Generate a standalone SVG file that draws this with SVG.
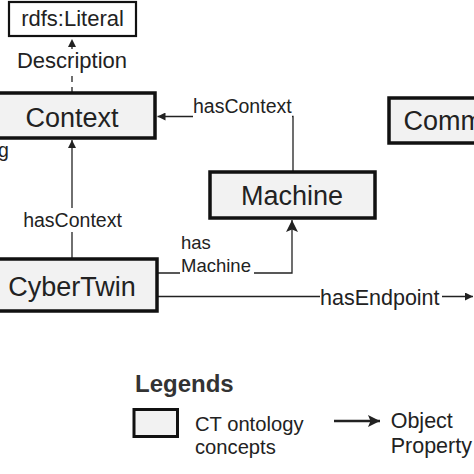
<svg xmlns="http://www.w3.org/2000/svg" width="474" height="474" viewBox="0 0 474 474">
<style>
text{font-family:"Liberation Sans",Arial,sans-serif;fill:#222}
.node{fill:#f2f2f2;stroke:#111;stroke-width:3.5}
.nt{font-size:27px;text-anchor:middle}
.lbl{font-size:19.5px}
.bg{fill:#fff}
.conn{fill:none;stroke:#222;stroke-width:1.3}
</style>
<defs>
<marker id="sm" markerUnits="userSpaceOnUse" markerWidth="8" markerHeight="8" refX="8" refY="4" orient="auto">
<path d="M0,0 L8,4 L0,8 Z" fill="#222"/>
</marker>
<marker id="big" markerUnits="userSpaceOnUse" markerWidth="13" markerHeight="12" refX="12" refY="6" orient="auto">
<path d="M0,0 L12,6 L0,12 L2.5,6 Z" fill="#222"/>
</marker>
</defs>
<rect width="474" height="474" fill="#fff"/>
<g id="connectors">
<path class="conn" d="M72,93 V39" stroke-dasharray="6,5" marker-end="url(#sm)"/>
<path class="conn" d="M293,172 V116.5 H157.5" marker-end="url(#sm)"/>
<path class="conn" d="M72,259 V140" marker-end="url(#sm)"/>
<path class="conn" d="M157,273 H292 V220" stroke-width="1.8" marker-end="url(#big)"/>
<path class="conn" d="M157,296.5 H473" marker-end="url(#sm)"/>
</g>
<g id="labels">
<rect class="bg" x="30" y="50" width="86" height="24"/>
<text x="72" y="68" font-size="22" text-anchor="middle">Description</text>
<rect class="bg" x="193" y="100" width="99" height="18"/>
<text class="lbl" x="193" y="113">hasContext</text>
<rect class="bg" x="24" y="208" width="97" height="24"/>
<text class="lbl" x="72.5" y="226.7" text-anchor="middle">hasContext</text>
<rect class="bg" x="180" y="256" width="74" height="20"/>
<text x="181" y="249" font-size="18.5">has</text>
<text x="181" y="271.7" font-size="18.5">Machine</text>
<rect class="bg" x="320" y="286" width="122" height="22"/>
<text x="320" y="305" font-size="21.5">hasEndpoint</text>
<text x="-2" y="157" font-size="19.5">g</text>
</g>
<g id="rdfsLiteral">
<rect x="9" y="2" width="127" height="34" fill="#fff" stroke="#111" stroke-width="2.2"/>
<text x="72.5" y="26" font-size="22" text-anchor="middle">rdfs:Literal</text>
</g>
<g id="Context">
<rect class="node" x="-11" y="93" width="166" height="45"/>
<text class="nt" x="72" y="126.7">Context</text>
</g>
<g id="CyberTwin">
<rect class="node" x="-13" y="259" width="170" height="52"/>
<text class="nt" x="72" y="296">CyberTwin</text>
</g>
<g id="Machine">
<rect class="node" x="210" y="172" width="165" height="46"/>
<text class="nt" x="292" y="205">Machine</text>
</g>
<g id="Comm">
<rect class="node" x="389" y="98" width="100" height="45"/>
<text x="403.5" y="130" font-size="27">Comm</text>
</g>
<g id="legend">
<text x="135" y="391.7" font-size="24" font-weight="bold" fill="#333" style="fill:#333">Legends</text>
<rect x="134" y="409.5" width="43.5" height="27" fill="#f2f2f2" stroke="#111" stroke-width="3"/>
<text x="195" y="430.7" font-size="20.2">CT ontology</text>
<text x="195" y="454" font-size="20.2">concepts</text>
<path d="M334,421 H380" stroke="#222" stroke-width="2.5" fill="none" marker-end="url(#big)"/>
<text x="390.7" y="428" font-size="21.5">Object</text>
<text x="390.7" y="452.7" font-size="21.5">Property</text>
</g>
</svg>
